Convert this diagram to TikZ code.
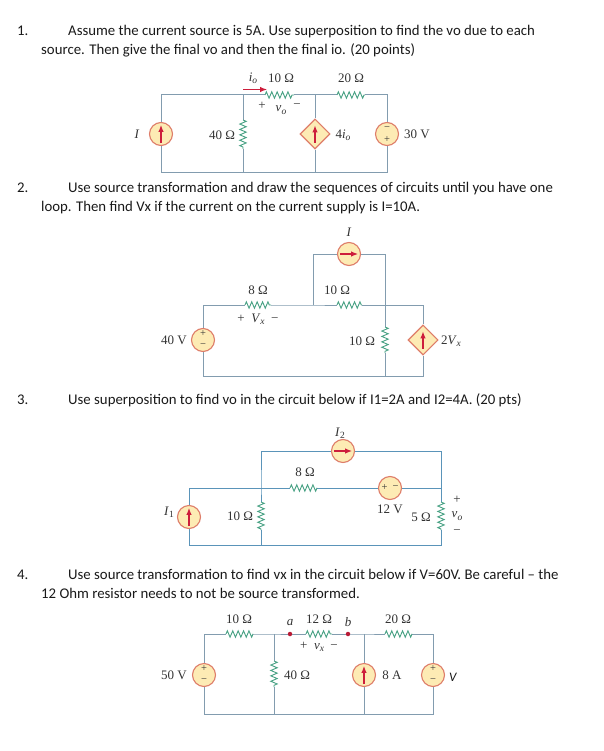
\documentclass[tikz,border=0pt]{standalone}
\usepackage{fontspec}
\usepackage{amsmath}
\usepackage{xcolor}
\usetikzlibrary{positioning, arrows.meta, calc, shapes.geometric, decorations.pathmorphing}
\setmainfont{Carlito}
\newfontfamily\labelfont{Liberation Serif}
\definecolor{wirecol}{RGB}{130,156,175}
\definecolor{wirecolb}{RGB}{90,148,185}
\definecolor{rescol}{RGB}{70,160,130}
\definecolor{srcedge}{RGB}{222,125,105}
\definecolor{srcfill}{RGB}{253,235,180}
\definecolor{arrowcol}{RGB}{205,30,60}
\newcommand{\lsub}[2]{\textit{#1}\raisebox{-2.5pt}{\fontsize{9.5}{10}\selectfont\textit{#2}}}

\begin{document}
\begin{tikzpicture}[
			x=1pt,
			y=-1pt,
			wire/.style={
				draw=wirecol,
				line width=1pt
			},
			res/.style={
				draw=rescol,
				line width=0.9pt,
				decorate,
				decoration={zigzag, segment length=5.4pt, amplitude=3.2pt}
			},
			src/.style={
				draw=srcedge,
				fill=srcfill,
				circle,
				line width=1.1pt,
				minimum size=23pt,
				inner sep=0pt
			},
			dep/.style={
				draw=srcedge,
				fill=srcfill,
				diamond,
				line width=1.1pt,
				minimum size=30pt,
				inner sep=0pt
			},
			sign/.style={
				font=\labelfont\fontsize{10.5}{11}\selectfont,
				inner sep=0pt,
				text=black!80
			},
			val/.style={
				font=\labelfont\fontsize{13}{14}\selectfont,
				inner sep=0pt,
				text=black!80
			},
			txt/.style={
				font=\fontsize{14.8}{16}\selectfont,
				anchor=base west,
				inner sep=0pt,
				text=black!90
			},
			flow/.style={
				draw=arrowcol,
				line width=1.1pt,
				-{Latex[length=7pt, width=5.5pt]},
				shorten >=3pt,
				shorten <=3pt
			},
			dot/.style={
				fill=arrowcol!90!black,
				circle,
				minimum size=4.5pt,
				inner sep=0pt
			}
			]
			\useasboundingbox (0,0) rectangle (603,751);
			
			% Question texts
			\node[txt] (n1) at (17,36) {1.};
			\node[txt] (t1a) at (68,36) {Assume the current source is 5A. Use superposition to find the vo due to each};
			\node[txt] (t1b) at (41,55) {source. Then give the final vo and then the final io. (20 points)};
			\node[txt] (n2) at (17,192.5) {2.};
			\node[txt] (t2a) at (68,192.5) {Use source transformation and draw the sequences of circuits until you have one};
			\node[txt] (t2b) at (41,211.5) {loop. Then find Vx if the current on the current supply is I=10A.};
			\node[txt] (n3) at (17,404) {3.};
			\node[txt] (t3a) at (68,404) {Use superposition to find vo in the circuit below if I1=2A and I2=4A. (20 pts)};
			\node[txt] (n4) at (17,579) {4.};
			\node[txt] (t4a) at (68,579) {Use source transformation to find vx in the circuit below if V=60V. Be careful – the};
			\node[txt] (t4b) at (41,598) {12 Ohm resistor needs to not be source transformed.};
			
			% Circuit 1
			\coordinate (a1) at (161,95);
			\coordinate (a2) at (243,95);
			\coordinate (a3) at (315,95);
			\coordinate (a4) at (387,95);
			\coordinate (b1) at (161,173);
			\coordinate (b2) at (243,173);
			\coordinate (b3) at (315,173);
			\coordinate (b4) at (387,173);
			\coordinate (r1l) at (265,95);
			\coordinate (r1r) at (294,95);
			\coordinate (r2l) at (337,95);
			\coordinate (r2r) at (365,95);
			\coordinate (r3t) at (243,120);
			\coordinate (r3b) at (243,149);
			\node[src] (s1) at (161,134) {};
			\node[dep] (s2) at (315,134) {};
			\node[src] (s3) at (387,134) {};
			\node[sign] at (s3.center) [yshift=-6pt] {+};
			\node[sign] at (s3.center) [yshift=5.5pt] {−};
			\draw[wire] (s1) -- (a1) -- (r1l) (r1r) -- (r2l) (r2r) -- (a4) -- (s3) -- (b4) -- (b1) -- (s1);
			\draw[wire] (a2) -- (r3t) (r3b) -- (b2) (a3) -- (s2) -- (b3);
			\draw[res] (r1l) -- (r1r);
			\draw[res] (r2l) -- (r2r);
			\draw[res] (r3t) -- (r3b);
			\draw[flow] (s1.south) -- (s1.north);
			\draw[flow, shorten >=7pt, shorten <=7pt] (s2.south) -- (s2.north);
			\coordinate (f1) at (243,89.5);
			\coordinate (f2) at (267,89.5);
			\draw[flow, shorten >=0pt, shorten <=0pt] (f1) -- (f2);
			\node[val] (i1) at (137,134) {\textit{I}};
			\node[val] (l1) at (222,135) {40 Ω};
			\node[val] (l2) at (281,78) {10 Ω};
			\node[val] (l3) at (351,78) {20 Ω};
			\node[val] (l4) at (343,135) {4\lsub{i}{o}};
			\node[val] (l5) at (417,134) {30 V};
			\node[val] (l6) at (253,78) {\lsub{i}{o}};
			\node[val] (l7) at (262,106) {+};
			\node[val] (l8) at (281,110) {\lsub{v}{o}};
			\node[val] (l9) at (297,106) {−};
			
			% Circuit 2
			\coordinate (c1) at (203,305);
			\coordinate (c2) at (313,305);
			\coordinate (c3) at (385,305);
			\coordinate (c4) at (423,305);
			\coordinate (c5) at (313,254);
			\coordinate (c6) at (385,254);
			\coordinate (d1) at (203,376);
			\coordinate (d3) at (385,376);
			\coordinate (d4) at (423,376);
			\coordinate (r4l) at (245,305);
			\coordinate (r4r) at (271,305);
			\coordinate (r5l) at (337,305);
			\coordinate (r5r) at (362,305);
			\coordinate (r6t) at (385,327);
			\coordinate (r6b) at (385,353);
			\node[src] (s4) at (203,340) {};
			\node[sign] at (s4.center) [yshift=6pt] {+};
			\node[sign] at (s4.center) [yshift=-5.5pt] {−};
			\node[src] (s5) at (349,254) {};
			\node[dep] (s6) at (423,340) {};
			\draw[wire] (s4) -- (c1) -- (r4l) (r4r) -- (c2) -- (r5l) (r5r) -- (c4) -- (s6) -- (d4) -- (d1) -- (s4);
			\draw[wire] (c2) -- (c5) -- (s5) -- (c6) -- (r6t) (r6b) -- (d3);
			\draw[res] (r4l) -- (r4r);
			\draw[res] (r5l) -- (r5r);
			\draw[res] (r6t) -- (r6b);
			\draw[flow] (s5.west) -- (s5.east);
			\draw[flow, shorten >=7pt, shorten <=7pt] (s6.south) -- (s6.north);
			\node[val] (l10) at (349,232) {\textit{I}};
			\node[val] (l11) at (258,290) {8 Ω};
			\node[val] (l12) at (337,290) {10 Ω};
			\node[val] (l13) at (174,340) {40 V};
			\node[val] (l14) at (362,341) {10 Ω};
			\node[val] (l15) at (451,341) {2\lsub{V}{x}};
			\node[val] (l16) at (258,319) {+ \ \lsub{V}{x} \ −};
			
			% Circuit 3
			\coordinate (e1) at (189,488);
			\coordinate (e2) at (261,488);
			\coordinate (e3) at (441,488);
			\coordinate (e4) at (261,451);
			\coordinate (e5) at (441,451);
			\coordinate (h1) at (189,545);
			\coordinate (h2) at (261,545);
			\coordinate (h3) at (441,545);
			\coordinate (r7l) at (290,488);
			\coordinate (r7r) at (317,488);
			\coordinate (r8t) at (261,502);
			\coordinate (r8b) at (261,530);
			\coordinate (r9t) at (441,502);
			\coordinate (r9b) at (441,530);
			\node[src] (s7) at (189,517) {};
			\node[src] (s8) at (343,451) {};
			\node[src] (s9) at (390,488) {};
			\node[sign] at (s9.center) [xshift=-5.5pt] {+};
			\node[sign] at (s9.center) [xshift=5.5pt] {−};
			\draw[wire, draw=wirecolb] (s7) -- (e1) -- (r7l) (r7r) -- (s9) -- (e3) -- (r9t) (r9b) -- (h3) -- (h1) -- (s7);
			\draw[wire, draw=wirecolb] (h2) -- (r8b) (r8t) -- (e2) -- (e4) -- (s8) -- (e5) -- (e3);
			\draw[res] (r7l) -- (r7r);
			\draw[res] (r8t) -- (r8b);
			\draw[res] (r9t) -- (r9b);
			\draw[flow] (s7.south) -- (s7.north);
			\draw[flow] (s8.west) -- (s8.east);
			\node[val] (l17) at (340,433) {\lsub{I}{\textup{2}}};
			\node[val] (l18) at (305,472) {8 Ω};
			\node[val] (l19) at (169,512) {\lsub{I}{\textup{1}}};
			\node[val] (l20) at (240,516) {10 Ω};
			\node[val] (l21) at (390,509) {12 V};
			\node[val] (l22) at (421,517) {5 Ω};
			\node[val] (l23) at (457,500) {+};
			\node[val] (l24) at (457,516) {\lsub{v}{o}};
			\node[val] (l25) at (457,532) {−};
			
			% Circuit 4
			\coordinate (g1) at (204,634);
			\coordinate (g2) at (274,634);
			\coordinate (g3) at (364,634);
			\coordinate (g4) at (433,634);
			\coordinate (k1) at (204,714);
			\coordinate (k2) at (274,714);
			\coordinate (k3) at (364,714);
			\coordinate (k4) at (433,714);
			\coordinate (r10l) at (226,634);
			\coordinate (r10r) at (253,634);
			\coordinate (r11l) at (306,634);
			\coordinate (r11r) at (332,634);
			\coordinate (r12l) at (385,634);
			\coordinate (r12r) at (412,634);
			\coordinate (r13t) at (274,661);
			\coordinate (r13b) at (274,687);
			\node[dot] (pa) at (290,634) {};
			\node[dot] (pb) at (348,634) {};
			\node[src] (s10) at (204,675) {};
			\node[sign] at (s10.center) [yshift=6pt] {+};
			\node[sign] at (s10.center) [yshift=-5.5pt] {−};
			\node[src] (s11) at (364,675) {};
			\node[src] (s12) at (433,675) {};
			\node[sign] at (s12.center) [yshift=6pt] {+};
			\node[sign] at (s12.center) [yshift=-5.5pt] {−};
			\draw[wire] (s10) -- (g1) -- (r10l) (r10r) -- (g2) -- (pa) -- (r11l) (r11r) -- (pb) -- (g3) -- (r12l) (r12r) -- (g4) -- (s12) -- (k4) -- (k1) -- (s10);
			\draw[wire] (g2) -- (r13t) (r13b) -- (k2) (g3) -- (s11) -- (k3);
			\draw[res] (r10l) -- (r10r);
			\draw[res] (r11l) -- (r11r);
			\draw[res] (r12l) -- (r12r);
			\draw[res] (r13t) -- (r13b);
			\draw[flow] (s11.south) -- (s11.north);
			\node[val] (l26) at (239,619) {10 Ω};
			\node[val] (l27) at (290,622) {\textit{a}};
			\node[val] (l28) at (319,619) {12 Ω};
			\node[val] (l29) at (348,622) {\textit{b}};
			\node[val] (l30) at (398,619) {20 Ω};
			\node[val] (l31) at (174,675) {50 V};
			\node[val] (l32) at (297,675) {40 Ω};
			\node[val] (l33) at (392,675) {8 A};
			\node[val] (l34) at (319,647) {+ \ \lsub{v}{x} \ −};
			\node[txt, anchor=center, font=\fontsize{13}{14}\selectfont] (l35) at (453,677) {\textit{V}};
		\end{tikzpicture}
\end{document}
